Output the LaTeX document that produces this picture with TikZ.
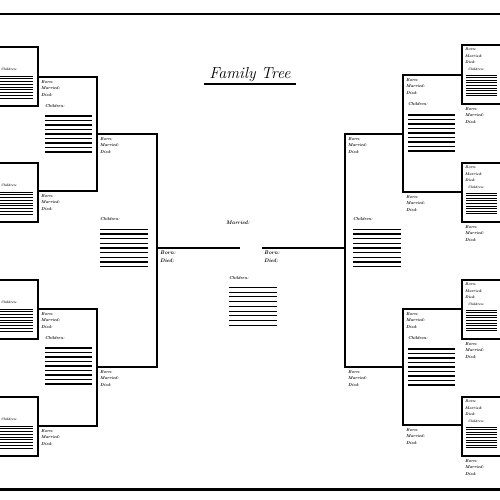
\documentclass[tikz,border=0pt]{standalone}
\usetikzlibrary{positioning}

\begin{document}
\begin{tikzpicture}[
        x=1pt,
        y=-1pt,
        rule/.style={line width=2.6pt},
        bracket/.style={line width=1.8pt},
        writeLine/.style={line width=1.1pt},
        boxLine/.style={line width=0.85pt},
        info/.style={
            anchor=north west,
            inner sep=0pt,
            align=left,
            font=\fontsize{4.2}{6.6}\selectfont\bfseries\itshape
        },
        infoTiny/.style={info, font=\fontsize{3.4}{5}\selectfont\bfseries\itshape},
        infoBig/.style={info, font=\fontsize{5.3}{8}\selectfont\bfseries\itshape},
        titleText/.style={font=\fontsize{16}{19}\selectfont\itshape, inner sep=0pt}
    ]
        \useasboundingbox (0,0) rectangle (500,500);
        \clip (0,0) rectangle (500,500);

        \draw[rule] (0,14) -- (500,14);
        \draw[rule, line width=3pt] (0,489) -- (500,489);

        \node[titleText, anchor=base] (title) at (250,79) {Family Tree};
        \draw[line width=1.2pt] (204,84) -- (296,84);

        % left side, great-grandparents
        \foreach \t [count=\i] in {47,163,280,397} {
            \draw[bracket] (-30,\t) rectangle (38,\t+59);
            \node[infoTiny] (lkidsA\i) at (1,\t+21) {Children:};
            \foreach \k in {0,...,8}
                \draw[boxLine] (-5,\t+29+\k*2.75) -- (33,\t+29+\k*2.75);
        }

        % left side, grandparents
        \foreach \t/\b [count=\i] in {77/191,309/426} {
            \draw[bracket] (38,\t) -| (97,\b) -- (38,\b);
            \node[info] (lpaB\i) at (41,\t+3) {Born:\\Married:\\Died:};
            \node[info] (lmaB\i) at (41,\b+3) {Born:\\Married:\\Died:};
            \node[info] (lkidsB\i) at (45,\t+27) {Children:};
            \foreach \k in {0,...,8}
                \draw[writeLine] (45,\t+39+\k*4.5) -- (92,\t+39+\k*4.5);
        }

        % left side, parent
        \draw[bracket] (97,134) -| (157,367) -- (97,367);
        \node[info] (lpaC) at (100,137) {Born:\\Married:\\Died:};
        \node[info] (lmaC) at (100,370) {Born:\\Married:\\Died:};
        \node[info] (lkidsC) at (100,217) {Children:};
        \foreach \k in {0,...,8}
            \draw[writeLine] (100,229.3+\k*4.67) -- (148,229.3+\k*4.67);

        % couple in the middle
        \draw[bracket] (157,248) -- (240,248);
        \draw[bracket] (262,248) -- (345,248);
        \node[infoBig] (leftSelf) at (160,251) {Born:\\Died:};
        \node[infoBig] (rightSelf) at (264,251) {Born:\\Died:};
        \node[infoBig] (married) at (226,221) {Married:};
        \node[info] (kidsD) at (229,276) {Children:};
        \foreach \k in {0,...,8}
            \draw[writeLine] (229,287.3+\k*4.75) -- (277,287.3+\k*4.75);

        % right side, parent
        \draw[bracket] (403,134) -| (345,367) -- (403,367);
        \node[info] (rpaC) at (348,137) {Born:\\Married:\\Died:};
        \node[info] (rmaC) at (348,370) {Born:\\Married:\\Died:};
        \node[info] (rkidsC) at (353,217) {Children:};
        \foreach \k in {0,...,8}
            \draw[writeLine] (353,229.3+\k*4.67) -- (401,229.3+\k*4.67);

        % right side, grandparents
        \foreach \t/\b [count=\i] in {75/192,309/425} {
            \draw[bracket] (462,\t) -| (403,\b) -- (462,\b);
            \node[info] (rpaB\i) at (406,\t+3) {Born:\\Married:\\Died:};
            \node[info] (rmaB\i) at (406,\b+3) {Born:\\Married:\\Died:};
            \node[info] (rkidsB\i) at (408,\t+27) {Children:};
            \foreach \k in {0,...,8}
                \draw[writeLine] (408,\t+40+\k*4.5) -- (455,\t+40+\k*4.5);
        }

        % right side, great-grandparents
        \foreach \t [count=\i] in {45,163,280,397} {
            \draw[bracket] (462,\t) rectangle (530,\t+59);
            \node[info, font=\fontsize{3.8}{6.2}\selectfont\bfseries\itshape] (rpaA\i) at (465,\t+3) {Born:\\Married:\\Died:};
            \node[infoTiny] (rkidsA\i) at (468,\t+22.5) {Children:};
            \foreach \k in {0,...,8}
                \draw[boxLine] (466,\t+30+\k*2.6) -- (497,\t+30+\k*2.6);
            \node[info] (rmaA\i) at (465,\t+62) {Born:\\Married:\\Died:};
        }
    \end{tikzpicture}
\end{document}
